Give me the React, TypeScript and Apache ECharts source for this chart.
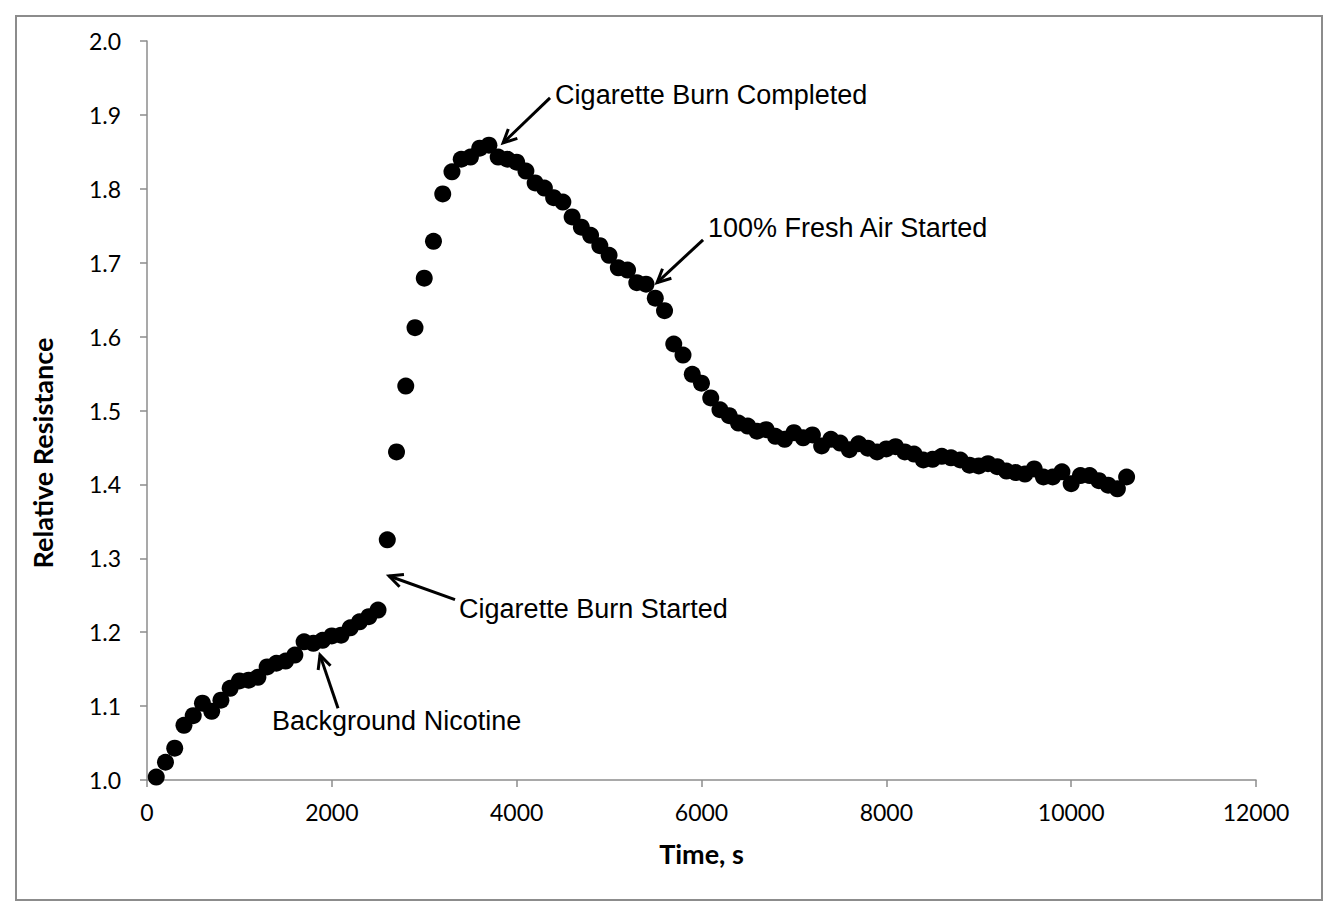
import React, { useEffect, useRef } from "react";
import * as echarts from "echarts";

// Sampling times (s) and relative sensor resistance
const times: number[] = [
  100, 200, 300, 400, 500, 600, 700, 800, 900, 1000,
  1100, 1200, 1300, 1400, 1500, 1600, 1700, 1800, 1900, 2000,
  2100, 2200, 2300, 2400, 2500, 2600, 2700, 2800, 2900, 3000,
  3100, 3200, 3300, 3400, 3500, 3600, 3700, 3800, 3900, 4000,
  4100, 4200, 4300, 4400, 4500, 4600, 4700, 4800, 4900, 5000,
  5100, 5200, 5300, 5400, 5500, 5600, 5700, 5800, 5900, 6000,
  6100, 6200, 6300, 6400, 6500, 6600, 6700, 6800, 6900, 7000,
  7100, 7200, 7300, 7400, 7500, 7600, 7700, 7800, 7900, 8000,
  8100, 8200, 8300, 8400, 8500, 8600, 8700, 8800, 8900, 9000,
  9100, 9200, 9300, 9400, 9500, 9600, 9700, 9800, 9900, 10000,
  10100, 10200, 10300, 10400, 10500, 10600,
];

const resistance: number[] = [
  1.004, 1.024, 1.043, 1.074, 1.087, 1.104, 1.093, 1.108, 1.124, 1.134,
  1.135, 1.139, 1.153, 1.158, 1.161, 1.169, 1.187, 1.185, 1.189, 1.195,
  1.196, 1.206, 1.214, 1.221, 1.230, 1.325, 1.444, 1.533, 1.612, 1.679,
  1.729, 1.793, 1.823, 1.840, 1.843, 1.855, 1.859, 1.843, 1.840, 1.836,
  1.824, 1.808, 1.801, 1.788, 1.782, 1.762, 1.748, 1.737, 1.723, 1.710,
  1.693, 1.690, 1.673, 1.671, 1.652, 1.635, 1.590, 1.575, 1.549, 1.537,
  1.517, 1.501, 1.493, 1.483, 1.479, 1.472, 1.474, 1.465, 1.461, 1.470,
  1.463, 1.467, 1.452, 1.461, 1.456, 1.447, 1.455, 1.449, 1.444, 1.448,
  1.451, 1.444, 1.441, 1.433, 1.434, 1.438, 1.436, 1.433, 1.426, 1.425,
  1.428, 1.424, 1.418, 1.416, 1.414, 1.421, 1.410, 1.410, 1.417, 1.401,
  1.412, 1.412, 1.405, 1.399, 1.394, 1.410,
];

// Annotation labels with arrow tail/head and label anchor in data units
const noteLabels: string[] = [
  "Cigarette Burn Completed",
  "100% Fresh Air Started",
  "Cigarette Burn Started",
  "Background Nicotine",
];
const noteTails: [number, number][] = [
  [4361, 1.923],
  [6017, 1.731],
  [3333, 1.244],
  [2067, 1.097],
];
const noteHeads: [number, number][] = [
  [3853, 1.862],
  [5519, 1.673],
  [2619, 1.276],
  [1872, 1.169],
];
const noteAnchors: [number, number][] = [
  [4416, 1.927],
  [6071, 1.747],
  [3377, 1.231],
  [1353, 1.080],
];

const AXIS_GREY = "#8c8c8c";
const TICK_FONT = "Lato, 'Open Sans', sans-serif";
const NOTE_FONT = "'Liberation Sans', Arial, sans-serif";

export default function App() {
  const ref = useRef<HTMLDivElement>(null);

  useEffect(() => {
    if (!ref.current) return;
    const chart = echarts.init(ref.current, undefined, { renderer: "svg" });

    chart.setOption({
      animation: false,
      backgroundColor: "#ffffff",
      grid: { left: 147, right: 76, top: 41, bottom: 138, containLabel: false },
      xAxis: {
        type: "value",
        min: 0,
        max: 12000,
        interval: 2000,
        name: "Time, s",
        nameLocation: "middle",
        nameGap: 60,
        nameMoveOverlap: false,
        nameTextStyle: { fontFamily: TICK_FONT, fontWeight: "bold", fontSize: 27, color: "#000" },
        axisLine: { show: true, lineStyle: { color: AXIS_GREY, width: 1.5 } },
        axisTick: { show: true, inside: false, length: 7, lineStyle: { color: AXIS_GREY, width: 1.5 } },
        axisLabel: {
          fontFamily: TICK_FONT,
          fontSize: 23,
          color: "#000",
          margin: 20,
          formatter: (v: number) => String(v),
        },
        splitLine: { show: false },
      },
      yAxis: {
        type: "value",
        min: 1.0,
        max: 2.0,
        interval: 0.1,
        axisLine: { show: true, lineStyle: { color: AXIS_GREY, width: 1.5 } },
        axisTick: { show: true, inside: false, length: 7, lineStyle: { color: AXIS_GREY, width: 1.5 } },
        axisLabel: {
          fontFamily: TICK_FONT,
          fontSize: 23,
          color: "#000",
          margin: 26,
          formatter: (v: number) => v.toFixed(1),
        },
        splitLine: { show: false },
      },
      series: [
        {
          type: "scatter",
          symbol: "circle",
          symbolSize: 17,
          itemStyle: { color: "#000000", opacity: 1 },
          data: times.map((t, i) => [t, resistance[i]]),
        },
      ],
    });

    // Arrows with open heads and their labels, placed through the axis scales
    const graphics: any[] = [
      {
        type: "rect",
        shape: { x: 16, y: 16, width: 1306, height: 884 },
        style: { fill: "none", stroke: "#8c8c8c", lineWidth: 2 },
        silent: true,
      },
      {
        type: "text",
        x: 42,
        y: 453,
        rotation: Math.PI / 2,
        style: {
          text: "Relative Resistance",
          fontFamily: TICK_FONT,
          fontWeight: "bold",
          fontSize: 27,
          fill: "#000",
          align: "center",
          verticalAlign: "middle",
        },
      },
    ];

    noteLabels.forEach((label, i) => {
      const tail = chart.convertToPixel({ gridIndex: 0 }, noteTails[i]) as number[];
      const head = chart.convertToPixel({ gridIndex: 0 }, noteHeads[i]) as number[];
      const anchor = chart.convertToPixel({ gridIndex: 0 }, noteAnchors[i]) as number[];
      const ang = Math.atan2(head[1] - tail[1], head[0] - tail[0]);
      const hl = 15;
      const spread = 0.45;
      const w1 = [head[0] - hl * Math.cos(ang - spread), head[1] - hl * Math.sin(ang - spread)];
      const w2 = [head[0] - hl * Math.cos(ang + spread), head[1] - hl * Math.sin(ang + spread)];
      graphics.push({
        type: "line",
        shape: { x1: tail[0], y1: tail[1], x2: head[0], y2: head[1] },
        style: { stroke: "#000", lineWidth: 3 },
      });
      graphics.push({
        type: "polyline",
        shape: { points: [w1, head, w2] },
        style: { stroke: "#000", lineWidth: 3, fill: "none", lineJoin: "miter" },
      });
      graphics.push({
        type: "text",
        x: anchor[0],
        y: anchor[1],
        style: {
          text: label,
          fontFamily: NOTE_FONT,
          fontSize: 27,
          fill: "#000",
          align: "left",
          verticalAlign: "middle",
        },
      });
    });

    chart.setOption({ graphic: graphics });

    return () => chart.dispose();
  }, []);

  return (
    <div
      ref={ref}
      style={{ position: "absolute", left: 0, top: 0, width: 1332, height: 918 }}
    />
  );
}
